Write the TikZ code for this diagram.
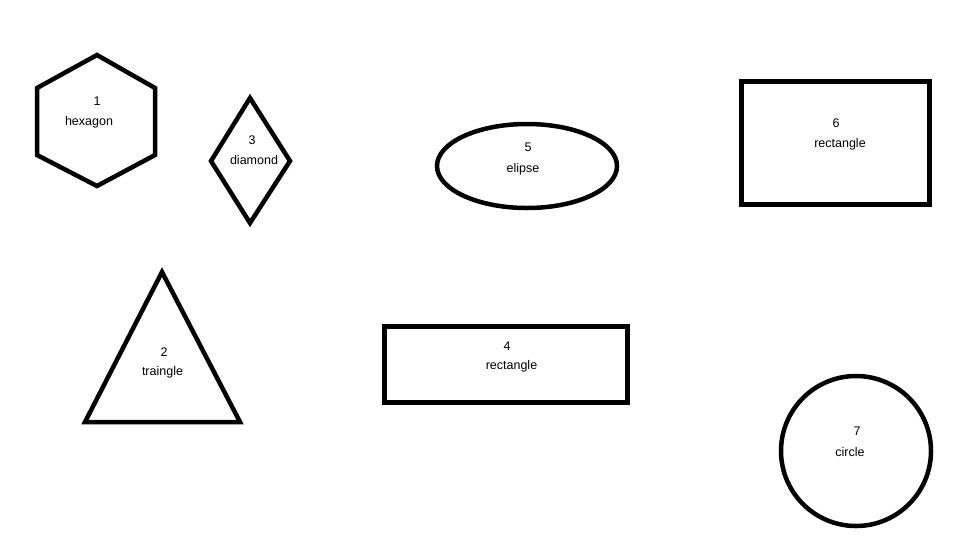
\documentclass[tikz,border=0pt]{standalone}
\usepackage{fontspec}
\setmainfont{Liberation Sans}
\begin{document}
\begin{tikzpicture}[x=1pt,y=-1pt,
  shp/.style={draw=black,line width=4.5pt,line join=miter},
  lbl/.style={anchor=base,inner sep=0pt,font=\fontsize{12.5pt}{15pt}\selectfont,text=black}]
\useasboundingbox[fill=white] (0,0) rectangle (979,558);
% hexagon
\draw[shp] (97,55) -- (155,88) -- (155,155) -- (97,186) -- (37,155) -- (37,88) -- cycle;
\node[lbl] (n1) at (97,105) {1};
\node[lbl] (t1) at (89,125) {hexagon};
% diamond
\draw[shp] (250,98) -- (290,161) -- (250,223) -- (211,161) -- cycle;
\node[lbl] (n3) at (252,144) {3};
\node[lbl] (t3) at (254,164) {diamond};
% ellipse
\draw[shp] (527,166) ellipse [x radius=90, y radius=42];
\node[lbl] (n5) at (528,151) {5};
\node[lbl] (t5) at (523,172) {elipse};
% rectangle 6
\draw[shp] (741.5,81.5) rectangle (929.5,204.5);
\node[lbl] (n6) at (836,127) {6};
\node[lbl] (t6) at (840,147) {rectangle};
% triangle
\draw[shp] (162,272) -- (240,422) -- (85,422) -- cycle;
\node[lbl] (n2) at (164,356) {2};
\node[lbl] (t2) at (162.5,375) {traingle};
% rectangle 4
\draw[shp] (384.5,326.5) rectangle (627.5,402.5);
\node[lbl] (n4) at (507,350) {4};
\node[lbl] (t4) at (511.5,369) {rectangle};
% circle
\draw[shp] (856,451) circle [radius=75];
\node[lbl] (n7) at (857,435) {7};
\node[lbl] (t7) at (850,456) {circle};
\end{tikzpicture}
\end{document}
